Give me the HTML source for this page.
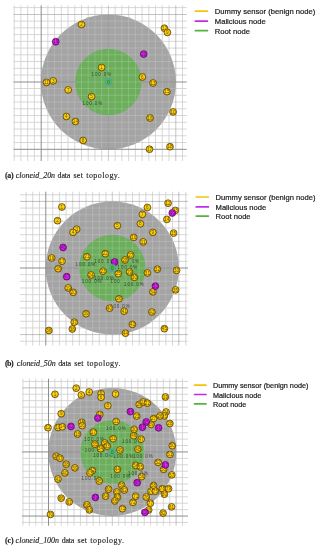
<!DOCTYPE html><html><head><meta charset="utf-8"><style>html,body{margin:0;padding:0;background:#fff}svg{display:block}</style></head><body><svg width="321" height="550" viewBox="0 0 321 550"><style>text{font-family:"Liberation Sans",sans-serif}.cap{font-family:"Liberation Serif",serif}</style><rect width="321" height="550" fill="#fff"/><defs><radialGradient id="gy" cx="0.5" cy="0.45" r="0.55"><stop offset="0" stop-color="#ffe21a"/><stop offset="0.6" stop-color="#f8cc08"/><stop offset="1" stop-color="#d49800"/></radialGradient><radialGradient id="gm" cx="0.5" cy="0.45" r="0.55"><stop offset="0" stop-color="#f432f4"/><stop offset="0.6" stop-color="#d81ee0"/><stop offset="1" stop-color="#9c10b0"/></radialGradient></defs><clipPath id="c1a"><circle cx="108.4" cy="82.0" r="67.5"/></clipPath><clipPath id="c1b"><circle cx="108.4" cy="82.0" r="33.3"/></clipPath><path d="M14.20 5.3V161M20.93 5.3V161M27.66 5.3V161M34.39 5.3V161M47.85 5.3V161M54.58 5.3V161M61.31 5.3V161M68.04 5.3V161M74.77 5.3V161M81.50 5.3V161M88.23 5.3V161M94.96 5.3V161M101.69 5.3V161M115.15 5.3V161M121.88 5.3V161M128.61 5.3V161M135.34 5.3V161M142.07 5.3V161M148.80 5.3V161M155.53 5.3V161M162.26 5.3V161M168.99 5.3V161M182.45 5.3V161M13.5 7.60H186.7M13.5 14.50H186.7M13.5 21.09H186.7M13.5 27.84H186.7M13.5 34.58H186.7M13.5 41.33H186.7M13.5 48.07H186.7M13.5 54.82H186.7M13.5 61.56H186.7M13.5 68.30H186.7M13.5 75.05H186.7M13.5 88.54H186.7M13.5 95.28H186.7M13.5 102.03H186.7M13.5 108.77H186.7M13.5 115.52H186.7M13.5 122.27H186.7M13.5 129.01H186.7M13.5 135.75H186.7M13.5 142.50H186.7M13.5 155.99H186.7" stroke="#d0d0d0" stroke-width="0.85" fill="none"/><path d="M41.2 5.3V161" stroke="#8e8e8e" stroke-opacity="1" stroke-width="1"/><path d="M108.4 5.3V161" stroke="#8e8e8e" stroke-opacity="0.45" stroke-width="1"/><path d="M175.8 5.3V161" stroke="#8e8e8e" stroke-opacity="0.5" stroke-width="1"/><path d="M13.5 14.5H186.7" stroke="#8e8e8e" stroke-opacity="0.3" stroke-width="1"/><path d="M13.5 82.0H186.7" stroke="#8e8e8e" stroke-opacity="1" stroke-width="1"/><path d="M13.5 149.3H186.7" stroke="#8e8e8e" stroke-opacity="1" stroke-width="1"/><circle cx="108.4" cy="82.0" r="67.5" fill="#a4a4a4"/><g clip-path="url(#c1a)"><path d="M14.20 5.3V161M20.93 5.3V161M27.66 5.3V161M34.39 5.3V161M47.85 5.3V161M54.58 5.3V161M61.31 5.3V161M68.04 5.3V161M74.77 5.3V161M81.50 5.3V161M88.23 5.3V161M94.96 5.3V161M101.69 5.3V161M115.15 5.3V161M121.88 5.3V161M128.61 5.3V161M135.34 5.3V161M142.07 5.3V161M148.80 5.3V161M155.53 5.3V161M162.26 5.3V161M168.99 5.3V161M182.45 5.3V161M13.5 7.60H186.7M13.5 14.50H186.7M13.5 21.09H186.7M13.5 27.84H186.7M13.5 34.58H186.7M13.5 41.33H186.7M13.5 48.07H186.7M13.5 54.82H186.7M13.5 61.56H186.7M13.5 68.30H186.7M13.5 75.05H186.7M13.5 88.54H186.7M13.5 95.28H186.7M13.5 102.03H186.7M13.5 108.77H186.7M13.5 115.52H186.7M13.5 122.27H186.7M13.5 129.01H186.7M13.5 135.75H186.7M13.5 142.50H186.7M13.5 155.99H186.7" stroke="#fff" stroke-opacity="0.19" stroke-width="0.85" fill="none"/><path d="M41.2 5.3V161" stroke="#404040" stroke-opacity="0.160" stroke-width="1"/><path d="M108.4 5.3V161" stroke="#404040" stroke-opacity="0.072" stroke-width="1"/><path d="M175.8 5.3V161" stroke="#404040" stroke-opacity="0.080" stroke-width="1"/><path d="M13.5 14.5H186.7" stroke="#404040" stroke-opacity="0.048" stroke-width="1"/><path d="M13.5 82.0H186.7" stroke="#404040" stroke-opacity="0.160" stroke-width="1"/><path d="M13.5 149.3H186.7" stroke="#404040" stroke-opacity="0.160" stroke-width="1"/></g><circle cx="108.4" cy="82.0" r="33.3" fill="#6cae5c"/><g clip-path="url(#c1b)"><path d="M14.20 5.3V161M20.93 5.3V161M27.66 5.3V161M34.39 5.3V161M41.20 5.3V161M47.85 5.3V161M54.58 5.3V161M61.31 5.3V161M68.04 5.3V161M74.77 5.3V161M81.50 5.3V161M88.23 5.3V161M94.96 5.3V161M101.69 5.3V161M108.40 5.3V161M115.15 5.3V161M121.88 5.3V161M128.61 5.3V161M135.34 5.3V161M142.07 5.3V161M148.80 5.3V161M155.53 5.3V161M162.26 5.3V161M168.99 5.3V161M175.80 5.3V161M182.45 5.3V161M13.5 7.60H186.7M13.5 14.50H186.7M13.5 21.09H186.7M13.5 27.84H186.7M13.5 34.58H186.7M13.5 41.33H186.7M13.5 48.07H186.7M13.5 54.82H186.7M13.5 61.56H186.7M13.5 68.30H186.7M13.5 75.05H186.7M13.5 82.00H186.7M13.5 88.54H186.7M13.5 95.28H186.7M13.5 102.03H186.7M13.5 108.77H186.7M13.5 115.52H186.7M13.5 122.27H186.7M13.5 129.01H186.7M13.5 135.75H186.7M13.5 142.50H186.7M13.5 149.30H186.7M13.5 155.99H186.7" stroke="#fff" stroke-opacity="0.2" stroke-width="0.85" fill="none"/></g><text x="91.5" y="76.1" font-size="4.5" letter-spacing="0.9" fill="#222" fill-opacity="0.75">100.0%</text><text x="82.5" y="104.9" font-size="4.5" letter-spacing="0.9" fill="#222" fill-opacity="0.75">100.0%</text><circle cx="81.5" cy="24.5" r="3.4" fill="url(#gy)" stroke="#4a3a0c" stroke-opacity="0.9" stroke-width="0.8"/><text x="81.5" y="26.1" font-size="4.6" text-anchor="middle" fill="#6e4a00">2</text><circle cx="46.5" cy="82.4" r="3.4" fill="url(#gy)" stroke="#4a3a0c" stroke-opacity="0.9" stroke-width="0.8"/><text x="46.5" y="84.0" font-size="4.6" text-anchor="middle" fill="#6e4a00">11</text><circle cx="53.2" cy="80.9" r="3.4" fill="url(#gy)" stroke="#4a3a0c" stroke-opacity="0.9" stroke-width="0.8"/><text x="53.2" y="82.5" font-size="4.6" text-anchor="middle" fill="#6e4a00">3</text><circle cx="68.2" cy="89.9" r="3.4" fill="url(#gy)" stroke="#4a3a0c" stroke-opacity="0.9" stroke-width="0.8"/><text x="68.2" y="91.5" font-size="4.6" text-anchor="middle" fill="#6e4a00">7</text><circle cx="91.6" cy="96.6" r="3.4" fill="url(#gy)" stroke="#4a3a0c" stroke-opacity="0.9" stroke-width="0.8"/><text x="91.6" y="98.19999999999999" font-size="4.6" text-anchor="middle" fill="#6e4a00">5</text><circle cx="101.6" cy="67.5" r="3.4" fill="url(#gy)" stroke="#4a3a0c" stroke-opacity="0.9" stroke-width="0.8"/><text x="101.6" y="69.1" font-size="4.6" text-anchor="middle" fill="#6e4a00">1</text><circle cx="66.4" cy="116.5" r="3.4" fill="url(#gy)" stroke="#4a3a0c" stroke-opacity="0.9" stroke-width="0.8"/><text x="66.4" y="118.1" font-size="4.6" text-anchor="middle" fill="#6e4a00">4</text><circle cx="75.4" cy="121.5" r="3.4" fill="url(#gy)" stroke="#4a3a0c" stroke-opacity="0.9" stroke-width="0.8"/><text x="75.4" y="123.1" font-size="4.6" text-anchor="middle" fill="#6e4a00">14</text><circle cx="83.1" cy="140.4" r="3.4" fill="url(#gy)" stroke="#4a3a0c" stroke-opacity="0.9" stroke-width="0.8"/><text x="83.1" y="142.0" font-size="4.6" text-anchor="middle" fill="#6e4a00">8</text><circle cx="164.4" cy="28.2" r="3.4" fill="url(#gy)" stroke="#4a3a0c" stroke-opacity="0.9" stroke-width="0.8"/><text x="164.4" y="29.8" font-size="4.6" text-anchor="middle" fill="#6e4a00">12</text><circle cx="167.4" cy="32.4" r="3.4" fill="url(#gy)" stroke="#4a3a0c" stroke-opacity="0.9" stroke-width="0.8"/><text x="167.4" y="34.0" font-size="4.6" text-anchor="middle" fill="#6e4a00">9</text><circle cx="142.4" cy="77" r="3.4" fill="url(#gy)" stroke="#4a3a0c" stroke-opacity="0.9" stroke-width="0.8"/><text x="142.4" y="78.6" font-size="4.6" text-anchor="middle" fill="#6e4a00">6</text><circle cx="153.1" cy="83" r="3.4" fill="url(#gy)" stroke="#4a3a0c" stroke-opacity="0.9" stroke-width="0.8"/><text x="153.1" y="84.6" font-size="4.6" text-anchor="middle" fill="#6e4a00">13</text><circle cx="166.9" cy="91.7" r="3.4" fill="url(#gy)" stroke="#4a3a0c" stroke-opacity="0.9" stroke-width="0.8"/><text x="166.9" y="93.3" font-size="4.6" text-anchor="middle" fill="#6e4a00">15</text><circle cx="173.1" cy="111.9" r="3.4" fill="url(#gy)" stroke="#4a3a0c" stroke-opacity="0.9" stroke-width="0.8"/><text x="173.1" y="113.5" font-size="4.6" text-anchor="middle" fill="#6e4a00">10</text><circle cx="150" cy="118" r="3.4" fill="url(#gy)" stroke="#4a3a0c" stroke-opacity="0.9" stroke-width="0.8"/><text x="150" y="119.6" font-size="4.6" text-anchor="middle" fill="#6e4a00">16</text><circle cx="149.5" cy="149.2" r="3.4" fill="url(#gy)" stroke="#4a3a0c" stroke-opacity="0.9" stroke-width="0.8"/><text x="149.5" y="150.79999999999998" font-size="4.6" text-anchor="middle" fill="#6e4a00">17</text><circle cx="170" cy="146.7" r="3.4" fill="url(#gy)" stroke="#4a3a0c" stroke-opacity="0.9" stroke-width="0.8"/><text x="170" y="148.29999999999998" font-size="4.6" text-anchor="middle" fill="#6e4a00">18</text><circle cx="55.75" cy="41.75" r="3.4" fill="url(#gm)" stroke="#4e0c64" stroke-opacity="0.9" stroke-width="0.8"/><text x="55.75" y="43.35" font-size="4.6" text-anchor="middle" fill="#6a087a">19</text><circle cx="143.7" cy="54.1" r="3.4" fill="url(#gm)" stroke="#4e0c64" stroke-opacity="0.9" stroke-width="0.8"/><text x="143.7" y="55.7" font-size="4.6" text-anchor="middle" fill="#6a087a">20</text><circle cx="108.5" cy="82.1" r="3.5" fill="#58b848" stroke="#4a98dc" stroke-width="0.9"/><text x="108.5" y="83.69999999999999" font-size="4.6" text-anchor="middle" fill="#1d6a1d">0</text><line x1="195.4" y1="11.1" x2="207.4" y2="11.1" stroke="#f5c30a" stroke-width="1.7" stroke-linecap="round"/><text x="214.8" y="14.4" font-size="7.64" fill="#1a1a1a" stroke="#1a1a1a" stroke-width="0.2" class="lg">Dummy sensor (benign node)</text><line x1="195.4" y1="21.2" x2="207.4" y2="21.2" stroke="#c62ae6" stroke-width="1.7" stroke-linecap="round"/><text x="214.8" y="24.2" font-size="7.64" fill="#1a1a1a" stroke="#1a1a1a" stroke-width="0.2" class="lg">Malicious node</text><line x1="195.4" y1="30.7" x2="207.4" y2="30.7" stroke="#58b040" stroke-width="1.7" stroke-linecap="round"/><text x="214.8" y="33.75" font-size="7.64" fill="#1a1a1a" stroke="#1a1a1a" stroke-width="0.2" class="lg">Root node</text><text y="178.1" font-size="8" fill="#1a1a1a" stroke="#1a1a1a" stroke-width="0.12" class="cap"><tspan x="5.0" textLength="8.6" lengthAdjust="spacing" font-weight="bold">(a)</tspan> <tspan x="15.8" textLength="39.3" lengthAdjust="spacing" font-style="italic">cloneid_20n</tspan> <tspan x="57.6" textLength="12.7" lengthAdjust="spacing">data</tspan> <tspan x="73.5" textLength="9.4" lengthAdjust="spacing">set</tspan> <tspan x="86.2" textLength="33.6" lengthAdjust="spacing">topology.</tspan></text><clipPath id="c2a"><circle cx="112.25" cy="268" r="66.6"/></clipPath><clipPath id="c2b"><circle cx="112.25" cy="268" r="33.3"/></clipPath><path d="M26.10 191.7V345.6M32.76 191.7V345.6M39.41 191.7V345.6M52.72 191.7V345.6M59.38 191.7V345.6M66.03 191.7V345.6M72.69 191.7V345.6M79.34 191.7V345.6M86.00 191.7V345.6M92.65 191.7V345.6M99.31 191.7V345.6M105.96 191.7V345.6M112.30 191.7V345.6M119.27 191.7V345.6M125.93 191.7V345.6M132.58 191.7V345.6M139.24 191.7V345.6M145.89 191.7V345.6M152.55 191.7V345.6M159.20 191.7V345.6M165.85 191.7V345.6M172.51 191.7V345.6M185.82 191.7V345.6M19.9 194.74H188M19.9 208.06H188M19.9 214.72H188M19.9 221.38H188M19.9 228.04H188M19.9 234.70H188M19.9 241.36H188M19.9 248.02H188M19.9 254.68H188M19.9 261.34H188M19.9 274.66H188M19.9 281.32H188M19.9 287.98H188M19.9 294.64H188M19.9 301.30H188M19.9 307.96H188M19.9 314.62H188M19.9 321.28H188M19.9 327.94H188M19.9 341.26H188" stroke="#d0d0d0" stroke-width="0.85" fill="none"/><path d="M45.8 191.7V345.6" stroke="#8e8e8e" stroke-opacity="1" stroke-width="1"/><path d="M112.3 191.7V345.6" stroke="#8e8e8e" stroke-opacity="0.15" stroke-width="1"/><path d="M178.8 191.7V345.6" stroke="#8e8e8e" stroke-opacity="0.55" stroke-width="1"/><path d="M19.9 201.4H188" stroke="#8e8e8e" stroke-opacity="0.55" stroke-width="1"/><path d="M19.9 268H188" stroke="#8e8e8e" stroke-opacity="1" stroke-width="1"/><path d="M19.9 334.6H188" stroke="#8e8e8e" stroke-opacity="0.55" stroke-width="1"/><circle cx="112.25" cy="268" r="66.6" fill="#a4a4a4"/><g clip-path="url(#c2a)"><path d="M26.10 191.7V345.6M32.76 191.7V345.6M39.41 191.7V345.6M52.72 191.7V345.6M59.38 191.7V345.6M66.03 191.7V345.6M72.69 191.7V345.6M79.34 191.7V345.6M86.00 191.7V345.6M92.65 191.7V345.6M99.31 191.7V345.6M105.96 191.7V345.6M112.30 191.7V345.6M119.27 191.7V345.6M125.93 191.7V345.6M132.58 191.7V345.6M139.24 191.7V345.6M145.89 191.7V345.6M152.55 191.7V345.6M159.20 191.7V345.6M165.85 191.7V345.6M172.51 191.7V345.6M185.82 191.7V345.6M19.9 194.74H188M19.9 208.06H188M19.9 214.72H188M19.9 221.38H188M19.9 228.04H188M19.9 234.70H188M19.9 241.36H188M19.9 248.02H188M19.9 254.68H188M19.9 261.34H188M19.9 274.66H188M19.9 281.32H188M19.9 287.98H188M19.9 294.64H188M19.9 301.30H188M19.9 307.96H188M19.9 314.62H188M19.9 321.28H188M19.9 327.94H188M19.9 341.26H188" stroke="#fff" stroke-opacity="0.19" stroke-width="0.85" fill="none"/><path d="M45.8 191.7V345.6" stroke="#404040" stroke-opacity="0.160" stroke-width="1"/><path d="M112.3 191.7V345.6" stroke="#404040" stroke-opacity="0.024" stroke-width="1"/><path d="M178.8 191.7V345.6" stroke="#404040" stroke-opacity="0.088" stroke-width="1"/><path d="M19.9 201.4H188" stroke="#404040" stroke-opacity="0.088" stroke-width="1"/><path d="M19.9 268H188" stroke="#404040" stroke-opacity="0.160" stroke-width="1"/><path d="M19.9 334.6H188" stroke="#404040" stroke-opacity="0.088" stroke-width="1"/></g><circle cx="112.25" cy="268" r="33.3" fill="#6cae5c"/><g clip-path="url(#c2b)"><path d="M26.10 191.7V345.6M32.76 191.7V345.6M39.41 191.7V345.6M45.80 191.7V345.6M52.72 191.7V345.6M59.38 191.7V345.6M66.03 191.7V345.6M72.69 191.7V345.6M79.34 191.7V345.6M86.00 191.7V345.6M92.65 191.7V345.6M99.31 191.7V345.6M105.96 191.7V345.6M112.30 191.7V345.6M119.27 191.7V345.6M125.93 191.7V345.6M132.58 191.7V345.6M139.24 191.7V345.6M145.89 191.7V345.6M152.55 191.7V345.6M159.20 191.7V345.6M165.85 191.7V345.6M172.51 191.7V345.6M178.80 191.7V345.6M185.82 191.7V345.6M19.9 194.74H188M19.9 201.40H188M19.9 208.06H188M19.9 214.72H188M19.9 221.38H188M19.9 228.04H188M19.9 234.70H188M19.9 241.36H188M19.9 248.02H188M19.9 254.68H188M19.9 261.34H188M19.9 268.00H188M19.9 274.66H188M19.9 281.32H188M19.9 287.98H188M19.9 294.64H188M19.9 301.30H188M19.9 307.96H188M19.9 314.62H188M19.9 321.28H188M19.9 327.94H188M19.9 334.60H188M19.9 341.26H188" stroke="#fff" stroke-opacity="0.2" stroke-width="0.85" fill="none"/></g><text x="75.6" y="266.3" font-size="4.5" letter-spacing="0.9" fill="#222" fill-opacity="0.75">100.0%</text><text x="94.3" y="263.3" font-size="4.5" letter-spacing="0.9" fill="#222" fill-opacity="0.75">100.0%</text><text x="117.6" y="268.5" font-size="4.5" letter-spacing="0.9" fill="#222" fill-opacity="0.75">100.0%</text><text x="81.8" y="283.3" font-size="4.5" letter-spacing="0.9" fill="#222" fill-opacity="0.75">100.0%</text><text x="94" y="279.8" font-size="4.5" letter-spacing="0.9" fill="#222" fill-opacity="0.75">100.0%</text><text x="124" y="285.8" font-size="4.5" letter-spacing="0.9" fill="#222" fill-opacity="0.75">100.0%</text><text x="110" y="307.5" font-size="4.5" letter-spacing="0.9" fill="#222" fill-opacity="0.75">100.0%</text><text x="131.7" y="263.3" font-size="4.5" letter-spacing="0.9" fill="#222" fill-opacity="0.75">0%</text><text x="110.5" y="283" font-size="4.5" letter-spacing="0.9" fill="#222" fill-opacity="0.75">100</text><circle cx="61.9" cy="207" r="3.4" fill="url(#gy)" stroke="#4a3a0c" stroke-opacity="0.9" stroke-width="0.8"/><text x="61.9" y="208.6" font-size="4.6" text-anchor="middle" fill="#6e4a00">1</text><circle cx="57.5" cy="220.7" r="3.4" fill="url(#gy)" stroke="#4a3a0c" stroke-opacity="0.9" stroke-width="0.8"/><text x="57.5" y="222.29999999999998" font-size="4.6" text-anchor="middle" fill="#6e4a00">2</text><circle cx="76.7" cy="229.2" r="3.4" fill="url(#gy)" stroke="#4a3a0c" stroke-opacity="0.9" stroke-width="0.8"/><text x="76.7" y="230.79999999999998" font-size="4.6" text-anchor="middle" fill="#6e4a00">3</text><circle cx="73" cy="232.4" r="3.4" fill="url(#gy)" stroke="#4a3a0c" stroke-opacity="0.9" stroke-width="0.8"/><text x="73" y="234.0" font-size="4.6" text-anchor="middle" fill="#6e4a00">4</text><circle cx="117.4" cy="225.7" r="3.4" fill="url(#gy)" stroke="#4a3a0c" stroke-opacity="0.9" stroke-width="0.8"/><text x="117.4" y="227.29999999999998" font-size="4.6" text-anchor="middle" fill="#6e4a00">5</text><circle cx="147.4" cy="207.5" r="3.4" fill="url(#gy)" stroke="#4a3a0c" stroke-opacity="0.9" stroke-width="0.8"/><text x="147.4" y="209.1" font-size="4.6" text-anchor="middle" fill="#6e4a00">6</text><circle cx="142.4" cy="214.4" r="3.4" fill="url(#gy)" stroke="#4a3a0c" stroke-opacity="0.9" stroke-width="0.8"/><text x="142.4" y="216.0" font-size="4.6" text-anchor="middle" fill="#6e4a00">7</text><circle cx="140.4" cy="223.7" r="3.4" fill="url(#gy)" stroke="#4a3a0c" stroke-opacity="0.9" stroke-width="0.8"/><text x="140.4" y="225.29999999999998" font-size="4.6" text-anchor="middle" fill="#6e4a00">8</text><circle cx="152.9" cy="232.4" r="3.4" fill="url(#gy)" stroke="#4a3a0c" stroke-opacity="0.9" stroke-width="0.8"/><text x="152.9" y="234.0" font-size="4.6" text-anchor="middle" fill="#6e4a00">9</text><circle cx="133.7" cy="237.4" r="3.4" fill="url(#gy)" stroke="#4a3a0c" stroke-opacity="0.9" stroke-width="0.8"/><text x="133.7" y="239.0" font-size="4.6" text-anchor="middle" fill="#6e4a00">10</text><circle cx="143.2" cy="241.9" r="3.4" fill="url(#gy)" stroke="#4a3a0c" stroke-opacity="0.9" stroke-width="0.8"/><text x="143.2" y="243.5" font-size="4.6" text-anchor="middle" fill="#6e4a00">11</text><circle cx="168.1" cy="203.2" r="3.4" fill="url(#gy)" stroke="#4a3a0c" stroke-opacity="0.9" stroke-width="0.8"/><text x="168.1" y="204.79999999999998" font-size="4.6" text-anchor="middle" fill="#6e4a00">12</text><circle cx="175.3" cy="210.4" r="3.4" fill="url(#gy)" stroke="#4a3a0c" stroke-opacity="0.9" stroke-width="0.8"/><text x="175.3" y="212.0" font-size="4.6" text-anchor="middle" fill="#6e4a00">13</text><circle cx="166.9" cy="219.4" r="3.4" fill="url(#gy)" stroke="#4a3a0c" stroke-opacity="0.9" stroke-width="0.8"/><text x="166.9" y="221.0" font-size="4.6" text-anchor="middle" fill="#6e4a00">14</text><circle cx="173.6" cy="233.1" r="3.4" fill="url(#gy)" stroke="#4a3a0c" stroke-opacity="0.9" stroke-width="0.8"/><text x="173.6" y="234.7" font-size="4.6" text-anchor="middle" fill="#6e4a00">15</text><circle cx="51.7" cy="258" r="3.4" fill="url(#gy)" stroke="#4a3a0c" stroke-opacity="0.9" stroke-width="0.8"/><text x="51.7" y="259.6" font-size="4.6" text-anchor="middle" fill="#6e4a00">16</text><circle cx="62" cy="261.2" r="3.4" fill="url(#gy)" stroke="#4a3a0c" stroke-opacity="0.9" stroke-width="0.8"/><text x="62" y="262.8" font-size="4.6" text-anchor="middle" fill="#6e4a00">17</text><circle cx="58.2" cy="268.7" r="3.4" fill="url(#gy)" stroke="#4a3a0c" stroke-opacity="0.9" stroke-width="0.8"/><text x="58.2" y="270.3" font-size="4.6" text-anchor="middle" fill="#6e4a00">18</text><circle cx="68.2" cy="287.9" r="3.4" fill="url(#gy)" stroke="#4a3a0c" stroke-opacity="0.9" stroke-width="0.8"/><text x="68.2" y="289.5" font-size="4.6" text-anchor="middle" fill="#6e4a00">19</text><circle cx="73.2" cy="292.4" r="3.4" fill="url(#gy)" stroke="#4a3a0c" stroke-opacity="0.9" stroke-width="0.8"/><text x="73.2" y="294.0" font-size="4.6" text-anchor="middle" fill="#6e4a00">20</text><circle cx="86.9" cy="256.7" r="3.4" fill="url(#gy)" stroke="#4a3a0c" stroke-opacity="0.9" stroke-width="0.8"/><text x="86.9" y="258.3" font-size="4.6" text-anchor="middle" fill="#6e4a00">21</text><circle cx="105.3" cy="253.7" r="3.4" fill="url(#gy)" stroke="#4a3a0c" stroke-opacity="0.9" stroke-width="0.8"/><text x="105.3" y="255.29999999999998" font-size="4.6" text-anchor="middle" fill="#6e4a00">22</text><circle cx="103.1" cy="271.2" r="3.4" fill="url(#gy)" stroke="#4a3a0c" stroke-opacity="0.9" stroke-width="0.8"/><text x="103.1" y="272.8" font-size="4.6" text-anchor="middle" fill="#6e4a00">23</text><circle cx="91.1" cy="275" r="3.4" fill="url(#gy)" stroke="#4a3a0c" stroke-opacity="0.9" stroke-width="0.8"/><text x="91.1" y="276.6" font-size="4.6" text-anchor="middle" fill="#6e4a00">24</text><circle cx="118.3" cy="273.7" r="3.4" fill="url(#gy)" stroke="#4a3a0c" stroke-opacity="0.9" stroke-width="0.8"/><text x="118.3" y="275.3" font-size="4.6" text-anchor="middle" fill="#6e4a00">25</text><circle cx="119" cy="298.8" r="3.4" fill="url(#gy)" stroke="#4a3a0c" stroke-opacity="0.9" stroke-width="0.8"/><text x="119" y="300.40000000000003" font-size="4.6" text-anchor="middle" fill="#6e4a00">26</text><circle cx="130.7" cy="255" r="3.4" fill="url(#gy)" stroke="#4a3a0c" stroke-opacity="0.9" stroke-width="0.8"/><text x="130.7" y="256.6" font-size="4.6" text-anchor="middle" fill="#6e4a00">27</text><circle cx="125" cy="260" r="3.4" fill="url(#gy)" stroke="#4a3a0c" stroke-opacity="0.9" stroke-width="0.8"/><text x="125" y="261.6" font-size="4.6" text-anchor="middle" fill="#6e4a00">28</text><circle cx="129.5" cy="272" r="3.4" fill="url(#gy)" stroke="#4a3a0c" stroke-opacity="0.9" stroke-width="0.8"/><text x="129.5" y="273.6" font-size="4.6" text-anchor="middle" fill="#6e4a00">29</text><circle cx="134.4" cy="277.4" r="3.4" fill="url(#gy)" stroke="#4a3a0c" stroke-opacity="0.9" stroke-width="0.8"/><text x="134.4" y="279.0" font-size="4.6" text-anchor="middle" fill="#6e4a00">30</text><circle cx="147.4" cy="273" r="3.4" fill="url(#gy)" stroke="#4a3a0c" stroke-opacity="0.9" stroke-width="0.8"/><text x="147.4" y="274.6" font-size="4.6" text-anchor="middle" fill="#6e4a00">31</text><circle cx="157.4" cy="269.2" r="3.4" fill="url(#gy)" stroke="#4a3a0c" stroke-opacity="0.9" stroke-width="0.8"/><text x="157.4" y="270.8" font-size="4.6" text-anchor="middle" fill="#6e4a00">32</text><circle cx="176.6" cy="270.4" r="3.4" fill="url(#gy)" stroke="#4a3a0c" stroke-opacity="0.9" stroke-width="0.8"/><text x="176.6" y="272.0" font-size="4.6" text-anchor="middle" fill="#6e4a00">33</text><circle cx="152.9" cy="291.9" r="3.4" fill="url(#gy)" stroke="#4a3a0c" stroke-opacity="0.9" stroke-width="0.8"/><text x="152.9" y="293.5" font-size="4.6" text-anchor="middle" fill="#6e4a00">34</text><circle cx="175.6" cy="289.9" r="3.4" fill="url(#gy)" stroke="#4a3a0c" stroke-opacity="0.9" stroke-width="0.8"/><text x="175.6" y="291.5" font-size="4.6" text-anchor="middle" fill="#6e4a00">35</text><circle cx="48.9" cy="330.5" r="3.4" fill="url(#gy)" stroke="#4a3a0c" stroke-opacity="0.9" stroke-width="0.8"/><text x="48.9" y="332.1" font-size="4.6" text-anchor="middle" fill="#6e4a00">36</text><circle cx="74.2" cy="322.2" r="3.4" fill="url(#gy)" stroke="#4a3a0c" stroke-opacity="0.9" stroke-width="0.8"/><text x="74.2" y="323.8" font-size="4.6" text-anchor="middle" fill="#6e4a00">37</text><circle cx="72.3" cy="329" r="3.4" fill="url(#gy)" stroke="#4a3a0c" stroke-opacity="0.9" stroke-width="0.8"/><text x="72.3" y="330.6" font-size="4.6" text-anchor="middle" fill="#6e4a00">38</text><circle cx="86.1" cy="313.7" r="3.4" fill="url(#gy)" stroke="#4a3a0c" stroke-opacity="0.9" stroke-width="0.8"/><text x="86.1" y="315.3" font-size="4.6" text-anchor="middle" fill="#6e4a00">39</text><circle cx="109.6" cy="308.2" r="3.4" fill="url(#gy)" stroke="#4a3a0c" stroke-opacity="0.9" stroke-width="0.8"/><text x="109.6" y="309.8" font-size="4.6" text-anchor="middle" fill="#6e4a00">40</text><circle cx="124.2" cy="311.2" r="3.4" fill="url(#gy)" stroke="#4a3a0c" stroke-opacity="0.9" stroke-width="0.8"/><text x="124.2" y="312.8" font-size="4.6" text-anchor="middle" fill="#6e4a00">41</text><circle cx="151.9" cy="312" r="3.4" fill="url(#gy)" stroke="#4a3a0c" stroke-opacity="0.9" stroke-width="0.8"/><text x="151.9" y="313.6" font-size="4.6" text-anchor="middle" fill="#6e4a00">42</text><circle cx="132.4" cy="324.4" r="3.4" fill="url(#gy)" stroke="#4a3a0c" stroke-opacity="0.9" stroke-width="0.8"/><text x="132.4" y="326.0" font-size="4.6" text-anchor="middle" fill="#6e4a00">43</text><circle cx="125.5" cy="333.2" r="3.4" fill="url(#gy)" stroke="#4a3a0c" stroke-opacity="0.9" stroke-width="0.8"/><text x="125.5" y="334.8" font-size="4.6" text-anchor="middle" fill="#6e4a00">44</text><circle cx="164.4" cy="328.7" r="3.4" fill="url(#gy)" stroke="#4a3a0c" stroke-opacity="0.9" stroke-width="0.8"/><text x="164.4" y="330.3" font-size="4.6" text-anchor="middle" fill="#6e4a00">45</text><circle cx="63.1" cy="247.5" r="3.4" fill="url(#gm)" stroke="#4e0c64" stroke-opacity="0.9" stroke-width="0.8"/><text x="63.1" y="249.1" font-size="4.6" text-anchor="middle" fill="#6a087a">46</text><circle cx="66.7" cy="276.7" r="3.4" fill="url(#gm)" stroke="#4e0c64" stroke-opacity="0.9" stroke-width="0.8"/><text x="66.7" y="278.3" font-size="4.6" text-anchor="middle" fill="#6a087a">47</text><circle cx="114.7" cy="262" r="3.4" fill="url(#gm)" stroke="#4e0c64" stroke-opacity="0.9" stroke-width="0.8"/><text x="114.7" y="263.6" font-size="4.6" text-anchor="middle" fill="#6a087a">48</text><circle cx="172.3" cy="213" r="3.4" fill="url(#gm)" stroke="#4e0c64" stroke-opacity="0.9" stroke-width="0.8"/><text x="172.3" y="214.6" font-size="4.6" text-anchor="middle" fill="#6a087a">49</text><circle cx="155.4" cy="286.1" r="3.4" fill="url(#gm)" stroke="#4e0c64" stroke-opacity="0.9" stroke-width="0.8"/><text x="155.4" y="287.70000000000005" font-size="4.6" text-anchor="middle" fill="#6a087a">50</text><circle cx="112.4" cy="268.1" r="3.5" fill="#58b848" stroke="#4a98dc" stroke-width="0.9"/><text x="112.4" y="269.70000000000005" font-size="4.6" text-anchor="middle" fill="#1d6a1d">0</text><line x1="196.2" y1="197" x2="208.4" y2="197" stroke="#f5c30a" stroke-width="1.7" stroke-linecap="round"/><text x="215.6" y="200.1" font-size="7.58" fill="#1a1a1a" stroke="#1a1a1a" stroke-width="0.2" class="lg">Dummy sensor (benign node)</text><line x1="196.2" y1="206.9" x2="208.4" y2="206.9" stroke="#c62ae6" stroke-width="1.7" stroke-linecap="round"/><text x="215.6" y="210" font-size="7.58" fill="#1a1a1a" stroke="#1a1a1a" stroke-width="0.2" class="lg">Malicious node</text><line x1="196.2" y1="216.1" x2="208.4" y2="216.1" stroke="#58b040" stroke-width="1.7" stroke-linecap="round"/><text x="215.6" y="219.2" font-size="7.58" fill="#1a1a1a" stroke="#1a1a1a" stroke-width="0.2" class="lg">Root node</text><text y="366.3" font-size="8" fill="#1a1a1a" stroke="#1a1a1a" stroke-width="0.12" class="cap"><tspan x="5.0" textLength="8.6" lengthAdjust="spacing" font-weight="bold">(b)</tspan> <tspan x="16.8" textLength="38.9" lengthAdjust="spacing" font-style="italic">cloneid_50n</tspan> <tspan x="58.3" textLength="12.7" lengthAdjust="spacing">data</tspan> <tspan x="74.2" textLength="9.4" lengthAdjust="spacing">set</tspan> <tspan x="86.9" textLength="33.6" lengthAdjust="spacing">topology.</tspan></text><clipPath id="c3a"><circle cx="112.3" cy="451.95" r="64"/></clipPath><clipPath id="c3b"><circle cx="112.3" cy="451.95" r="32"/></clipPath><path d="M22.98 378.7V525.7M29.36 378.7V525.7M35.74 378.7V525.7M42.12 378.7V525.7M54.88 378.7V525.7M61.26 378.7V525.7M67.64 378.7V525.7M74.02 378.7V525.7M80.40 378.7V525.7M86.78 378.7V525.7M93.16 378.7V525.7M99.54 378.7V525.7M105.92 378.7V525.7M112.30 378.7V525.7M118.68 378.7V525.7M125.06 378.7V525.7M131.44 378.7V525.7M137.82 378.7V525.7M144.20 378.7V525.7M150.58 378.7V525.7M156.96 378.7V525.7M163.34 378.7V525.7M169.72 378.7V525.7M182.48 378.7V525.7M22.1 381.44H188M22.1 387.85H188M22.1 394.26H188M22.1 400.67H188M22.1 407.08H188M22.1 413.49H188M22.1 419.90H188M22.1 426.31H188M22.1 432.72H188M22.1 439.13H188M22.1 445.54H188M22.1 458.36H188M22.1 464.77H188M22.1 471.18H188M22.1 477.59H188M22.1 484.00H188M22.1 490.41H188M22.1 496.82H188M22.1 503.23H188M22.1 509.64H188M22.1 522.46H188" stroke="#d0d0d0" stroke-width="0.85" fill="none"/><path d="M48.5 378.7V525.7" stroke="#8e8e8e" stroke-opacity="1" stroke-width="1"/><path d="M112.3 378.7V525.7" stroke="#8e8e8e" stroke-opacity="0.15" stroke-width="1"/><path d="M176.1 378.7V525.7" stroke="#8e8e8e" stroke-opacity="0.55" stroke-width="1"/><path d="M22.1 387.85H188" stroke="#8e8e8e" stroke-opacity="0.3" stroke-width="1"/><path d="M22.1 451.95H188" stroke="#8e8e8e" stroke-opacity="1" stroke-width="1"/><path d="M22.1 516.05H188" stroke="#8e8e8e" stroke-opacity="1" stroke-width="1"/><circle cx="112.3" cy="451.95" r="64" fill="#a4a4a4"/><g clip-path="url(#c3a)"><path d="M22.98 378.7V525.7M29.36 378.7V525.7M35.74 378.7V525.7M42.12 378.7V525.7M54.88 378.7V525.7M61.26 378.7V525.7M67.64 378.7V525.7M74.02 378.7V525.7M80.40 378.7V525.7M86.78 378.7V525.7M93.16 378.7V525.7M99.54 378.7V525.7M105.92 378.7V525.7M112.30 378.7V525.7M118.68 378.7V525.7M125.06 378.7V525.7M131.44 378.7V525.7M137.82 378.7V525.7M144.20 378.7V525.7M150.58 378.7V525.7M156.96 378.7V525.7M163.34 378.7V525.7M169.72 378.7V525.7M182.48 378.7V525.7M22.1 381.44H188M22.1 387.85H188M22.1 394.26H188M22.1 400.67H188M22.1 407.08H188M22.1 413.49H188M22.1 419.90H188M22.1 426.31H188M22.1 432.72H188M22.1 439.13H188M22.1 445.54H188M22.1 458.36H188M22.1 464.77H188M22.1 471.18H188M22.1 477.59H188M22.1 484.00H188M22.1 490.41H188M22.1 496.82H188M22.1 503.23H188M22.1 509.64H188M22.1 522.46H188" stroke="#fff" stroke-opacity="0.19" stroke-width="0.85" fill="none"/><path d="M48.5 378.7V525.7" stroke="#404040" stroke-opacity="0.160" stroke-width="1"/><path d="M112.3 378.7V525.7" stroke="#404040" stroke-opacity="0.024" stroke-width="1"/><path d="M176.1 378.7V525.7" stroke="#404040" stroke-opacity="0.088" stroke-width="1"/><path d="M22.1 387.85H188" stroke="#404040" stroke-opacity="0.048" stroke-width="1"/><path d="M22.1 451.95H188" stroke="#404040" stroke-opacity="0.160" stroke-width="1"/><path d="M22.1 516.05H188" stroke="#404040" stroke-opacity="0.160" stroke-width="1"/></g><circle cx="112.3" cy="451.95" r="32" fill="#6cae5c"/><g clip-path="url(#c3b)"><path d="M22.98 378.7V525.7M29.36 378.7V525.7M35.74 378.7V525.7M42.12 378.7V525.7M48.50 378.7V525.7M54.88 378.7V525.7M61.26 378.7V525.7M67.64 378.7V525.7M74.02 378.7V525.7M80.40 378.7V525.7M86.78 378.7V525.7M93.16 378.7V525.7M99.54 378.7V525.7M105.92 378.7V525.7M112.30 378.7V525.7M118.68 378.7V525.7M125.06 378.7V525.7M131.44 378.7V525.7M137.82 378.7V525.7M144.20 378.7V525.7M150.58 378.7V525.7M156.96 378.7V525.7M163.34 378.7V525.7M169.72 378.7V525.7M176.10 378.7V525.7M182.48 378.7V525.7M22.1 381.44H188M22.1 387.85H188M22.1 394.26H188M22.1 400.67H188M22.1 407.08H188M22.1 413.49H188M22.1 419.90H188M22.1 426.31H188M22.1 432.72H188M22.1 439.13H188M22.1 445.54H188M22.1 451.95H188M22.1 458.36H188M22.1 464.77H188M22.1 471.18H188M22.1 477.59H188M22.1 484.00H188M22.1 490.41H188M22.1 496.82H188M22.1 503.23H188M22.1 509.64H188M22.1 516.05H188M22.1 522.46H188" stroke="#fff" stroke-opacity="0.2" stroke-width="0.85" fill="none"/></g><text x="84.2" y="440.7" font-size="4.5" letter-spacing="0.9" fill="#222" fill-opacity="0.75">100.0%</text><text x="106" y="430.2" font-size="4.5" letter-spacing="0.9" fill="#222" fill-opacity="0.75">100.0%</text><text x="84.8" y="452.2" font-size="4.5" letter-spacing="0.9" fill="#222" fill-opacity="0.75">100.0%</text><text x="93" y="457.1" font-size="4.5" letter-spacing="0.9" fill="#222" fill-opacity="0.75">100.0%</text><text x="122" y="443.2" font-size="4.5" letter-spacing="0.9" fill="#222" fill-opacity="0.75">100.0%</text><text x="113.5" y="457.9" font-size="4.5" letter-spacing="0.9" fill="#222" fill-opacity="0.75">100.0%</text><text x="133" y="457.9" font-size="4.5" letter-spacing="0.9" fill="#222" fill-opacity="0.75">100.0%</text><text x="110.5" y="477.7" font-size="4.5" letter-spacing="0.9" fill="#222" fill-opacity="0.75">100.0%</text><text x="128" y="475.2" font-size="4.5" letter-spacing="0.9" fill="#222" fill-opacity="0.75">100.0%</text><text x="81.5" y="479.5" font-size="4.5" letter-spacing="0.9" fill="#222" fill-opacity="0.75">100.0%</text><circle cx="55" cy="394.3" r="3.4" fill="url(#gy)" stroke="#4a3a0c" stroke-opacity="0.9" stroke-width="0.8"/><text x="55" y="395.90000000000003" font-size="4.6" text-anchor="middle" fill="#6e4a00">1</text><circle cx="76.2" cy="388.2" r="3.4" fill="url(#gy)" stroke="#4a3a0c" stroke-opacity="0.9" stroke-width="0.8"/><text x="76.2" y="389.8" font-size="4.6" text-anchor="middle" fill="#6e4a00">2</text><circle cx="81.3" cy="395" r="3.4" fill="url(#gy)" stroke="#4a3a0c" stroke-opacity="0.9" stroke-width="0.8"/><text x="81.3" y="396.6" font-size="4.6" text-anchor="middle" fill="#6e4a00">3</text><circle cx="89.2" cy="392" r="3.4" fill="url(#gy)" stroke="#4a3a0c" stroke-opacity="0.9" stroke-width="0.8"/><text x="89.2" y="393.6" font-size="4.6" text-anchor="middle" fill="#6e4a00">4</text><circle cx="101.1" cy="393.7" r="3.4" fill="url(#gy)" stroke="#4a3a0c" stroke-opacity="0.9" stroke-width="0.8"/><text x="101.1" y="395.3" font-size="4.6" text-anchor="middle" fill="#6e4a00">5</text><circle cx="101.1" cy="397.4" r="3.4" fill="url(#gy)" stroke="#4a3a0c" stroke-opacity="0.9" stroke-width="0.8"/><text x="101.1" y="399.0" font-size="4.6" text-anchor="middle" fill="#6e4a00">6</text><circle cx="115.5" cy="394" r="3.4" fill="url(#gy)" stroke="#4a3a0c" stroke-opacity="0.9" stroke-width="0.8"/><text x="115.5" y="395.6" font-size="4.6" text-anchor="middle" fill="#6e4a00">7</text><circle cx="107.8" cy="405.7" r="3.4" fill="url(#gy)" stroke="#4a3a0c" stroke-opacity="0.9" stroke-width="0.8"/><text x="107.8" y="407.3" font-size="4.6" text-anchor="middle" fill="#6e4a00">8</text><circle cx="61.2" cy="413.7" r="3.4" fill="url(#gy)" stroke="#4a3a0c" stroke-opacity="0.9" stroke-width="0.8"/><text x="61.2" y="415.3" font-size="4.6" text-anchor="middle" fill="#6e4a00">9</text><circle cx="99.8" cy="414.4" r="3.4" fill="url(#gy)" stroke="#4a3a0c" stroke-opacity="0.9" stroke-width="0.8"/><text x="99.8" y="416.0" font-size="4.6" text-anchor="middle" fill="#6e4a00">10</text><circle cx="116.1" cy="421.5" r="3.4" fill="url(#gy)" stroke="#4a3a0c" stroke-opacity="0.9" stroke-width="0.8"/><text x="116.1" y="423.1" font-size="4.6" text-anchor="middle" fill="#6e4a00">11</text><circle cx="48" cy="427.7" r="3.4" fill="url(#gy)" stroke="#4a3a0c" stroke-opacity="0.9" stroke-width="0.8"/><text x="48" y="429.3" font-size="4.6" text-anchor="middle" fill="#6e4a00">12</text><circle cx="58" cy="427.5" r="3.4" fill="url(#gy)" stroke="#4a3a0c" stroke-opacity="0.9" stroke-width="0.8"/><text x="58" y="429.1" font-size="4.6" text-anchor="middle" fill="#6e4a00">13</text><circle cx="62.4" cy="426.8" r="3.4" fill="url(#gy)" stroke="#4a3a0c" stroke-opacity="0.9" stroke-width="0.8"/><text x="62.4" y="428.40000000000003" font-size="4.6" text-anchor="middle" fill="#6e4a00">14</text><circle cx="81.7" cy="422.3" r="3.4" fill="url(#gy)" stroke="#4a3a0c" stroke-opacity="0.9" stroke-width="0.8"/><text x="81.7" y="423.90000000000003" font-size="4.6" text-anchor="middle" fill="#6e4a00">15</text><circle cx="82.2" cy="425.6" r="3.4" fill="url(#gy)" stroke="#4a3a0c" stroke-opacity="0.9" stroke-width="0.8"/><text x="82.2" y="427.20000000000005" font-size="4.6" text-anchor="middle" fill="#6e4a00">16</text><circle cx="93.4" cy="432.2" r="3.4" fill="url(#gy)" stroke="#4a3a0c" stroke-opacity="0.9" stroke-width="0.8"/><text x="93.4" y="433.8" font-size="4.6" text-anchor="middle" fill="#6e4a00">17</text><circle cx="77.6" cy="434" r="3.4" fill="url(#gy)" stroke="#4a3a0c" stroke-opacity="0.9" stroke-width="0.8"/><text x="77.6" y="435.6" font-size="4.6" text-anchor="middle" fill="#6e4a00">18</text><circle cx="165.4" cy="397" r="3.4" fill="url(#gy)" stroke="#4a3a0c" stroke-opacity="0.9" stroke-width="0.8"/><text x="165.4" y="398.6" font-size="4.6" text-anchor="middle" fill="#6e4a00">19</text><circle cx="139.2" cy="404.4" r="3.4" fill="url(#gy)" stroke="#4a3a0c" stroke-opacity="0.9" stroke-width="0.8"/><text x="139.2" y="406.0" font-size="4.6" text-anchor="middle" fill="#6e4a00">20</text><circle cx="143.2" cy="402" r="3.4" fill="url(#gy)" stroke="#4a3a0c" stroke-opacity="0.9" stroke-width="0.8"/><text x="143.2" y="403.6" font-size="4.6" text-anchor="middle" fill="#6e4a00">21</text><circle cx="147.4" cy="403.2" r="3.4" fill="url(#gy)" stroke="#4a3a0c" stroke-opacity="0.9" stroke-width="0.8"/><text x="147.4" y="404.8" font-size="4.6" text-anchor="middle" fill="#6e4a00">22</text><circle cx="136.7" cy="416.1" r="3.4" fill="url(#gy)" stroke="#4a3a0c" stroke-opacity="0.9" stroke-width="0.8"/><text x="136.7" y="417.70000000000005" font-size="4.6" text-anchor="middle" fill="#6e4a00">23</text><circle cx="166.1" cy="412" r="3.4" fill="url(#gy)" stroke="#4a3a0c" stroke-opacity="0.9" stroke-width="0.8"/><text x="166.1" y="413.6" font-size="4.6" text-anchor="middle" fill="#6e4a00">24</text><circle cx="164.4" cy="416" r="3.4" fill="url(#gy)" stroke="#4a3a0c" stroke-opacity="0.9" stroke-width="0.8"/><text x="164.4" y="417.6" font-size="4.6" text-anchor="middle" fill="#6e4a00">25</text><circle cx="160" cy="416" r="3.4" fill="url(#gy)" stroke="#4a3a0c" stroke-opacity="0.9" stroke-width="0.8"/><text x="160" y="417.6" font-size="4.6" text-anchor="middle" fill="#6e4a00">26</text><circle cx="153.6" cy="418.6" r="3.4" fill="url(#gy)" stroke="#4a3a0c" stroke-opacity="0.9" stroke-width="0.8"/><text x="153.6" y="420.20000000000005" font-size="4.6" text-anchor="middle" fill="#6e4a00">27</text><circle cx="169.9" cy="423.5" r="3.4" fill="url(#gy)" stroke="#4a3a0c" stroke-opacity="0.9" stroke-width="0.8"/><text x="169.9" y="425.1" font-size="4.6" text-anchor="middle" fill="#6e4a00">28</text><circle cx="151.1" cy="424.5" r="3.4" fill="url(#gy)" stroke="#4a3a0c" stroke-opacity="0.9" stroke-width="0.8"/><text x="151.1" y="426.1" font-size="4.6" text-anchor="middle" fill="#6e4a00">29</text><circle cx="134.2" cy="429.3" r="3.4" fill="url(#gy)" stroke="#4a3a0c" stroke-opacity="0.9" stroke-width="0.8"/><text x="134.2" y="430.90000000000003" font-size="4.6" text-anchor="middle" fill="#6e4a00">30</text><circle cx="113.1" cy="438.7" r="3.4" fill="url(#gy)" stroke="#4a3a0c" stroke-opacity="0.9" stroke-width="0.8"/><text x="113.1" y="440.3" font-size="4.6" text-anchor="middle" fill="#6e4a00">31</text><circle cx="104.8" cy="443" r="3.4" fill="url(#gy)" stroke="#4a3a0c" stroke-opacity="0.9" stroke-width="0.8"/><text x="104.8" y="444.6" font-size="4.6" text-anchor="middle" fill="#6e4a00">32</text><circle cx="107.3" cy="446.2" r="3.4" fill="url(#gy)" stroke="#4a3a0c" stroke-opacity="0.9" stroke-width="0.8"/><text x="107.3" y="447.8" font-size="4.6" text-anchor="middle" fill="#6e4a00">33</text><circle cx="100.6" cy="448.7" r="3.4" fill="url(#gy)" stroke="#4a3a0c" stroke-opacity="0.9" stroke-width="0.8"/><text x="100.6" y="450.3" font-size="4.6" text-anchor="middle" fill="#6e4a00">34</text><circle cx="94.9" cy="444.2" r="3.4" fill="url(#gy)" stroke="#4a3a0c" stroke-opacity="0.9" stroke-width="0.8"/><text x="94.9" y="445.8" font-size="4.6" text-anchor="middle" fill="#6e4a00">35</text><circle cx="56.2" cy="456.2" r="3.4" fill="url(#gy)" stroke="#4a3a0c" stroke-opacity="0.9" stroke-width="0.8"/><text x="56.2" y="457.8" font-size="4.6" text-anchor="middle" fill="#6e4a00">36</text><circle cx="60" cy="458.2" r="3.4" fill="url(#gy)" stroke="#4a3a0c" stroke-opacity="0.9" stroke-width="0.8"/><text x="60" y="459.8" font-size="4.6" text-anchor="middle" fill="#6e4a00">37</text><circle cx="66.2" cy="464.2" r="3.4" fill="url(#gy)" stroke="#4a3a0c" stroke-opacity="0.9" stroke-width="0.8"/><text x="66.2" y="465.8" font-size="4.6" text-anchor="middle" fill="#6e4a00">38</text><circle cx="74.9" cy="467.9" r="3.4" fill="url(#gy)" stroke="#4a3a0c" stroke-opacity="0.9" stroke-width="0.8"/><text x="74.9" y="469.5" font-size="4.6" text-anchor="middle" fill="#6e4a00">39</text><circle cx="64.9" cy="472.9" r="3.4" fill="url(#gy)" stroke="#4a3a0c" stroke-opacity="0.9" stroke-width="0.8"/><text x="64.9" y="474.5" font-size="4.6" text-anchor="middle" fill="#6e4a00">40</text><circle cx="58" cy="479" r="3.4" fill="url(#gy)" stroke="#4a3a0c" stroke-opacity="0.9" stroke-width="0.8"/><text x="58" y="480.6" font-size="4.6" text-anchor="middle" fill="#6e4a00">41</text><circle cx="92.4" cy="470.6" r="3.4" fill="url(#gy)" stroke="#4a3a0c" stroke-opacity="0.9" stroke-width="0.8"/><text x="92.4" y="472.20000000000005" font-size="4.6" text-anchor="middle" fill="#6e4a00">42</text><circle cx="89.9" cy="473" r="3.4" fill="url(#gy)" stroke="#4a3a0c" stroke-opacity="0.9" stroke-width="0.8"/><text x="89.9" y="474.6" font-size="4.6" text-anchor="middle" fill="#6e4a00">43</text><circle cx="117.4" cy="469.4" r="3.4" fill="url(#gy)" stroke="#4a3a0c" stroke-opacity="0.9" stroke-width="0.8"/><text x="117.4" y="471.0" font-size="4.6" text-anchor="middle" fill="#6e4a00">44</text><circle cx="99.3" cy="481.1" r="3.4" fill="url(#gy)" stroke="#4a3a0c" stroke-opacity="0.9" stroke-width="0.8"/><text x="99.3" y="482.70000000000005" font-size="4.6" text-anchor="middle" fill="#6e4a00">45</text><circle cx="133.7" cy="435.7" r="3.4" fill="url(#gy)" stroke="#4a3a0c" stroke-opacity="0.9" stroke-width="0.8"/><text x="133.7" y="437.3" font-size="4.6" text-anchor="middle" fill="#6e4a00">46</text><circle cx="141.2" cy="439.2" r="3.4" fill="url(#gy)" stroke="#4a3a0c" stroke-opacity="0.9" stroke-width="0.8"/><text x="141.2" y="440.8" font-size="4.6" text-anchor="middle" fill="#6e4a00">47</text><circle cx="137.9" cy="449.2" r="3.4" fill="url(#gy)" stroke="#4a3a0c" stroke-opacity="0.9" stroke-width="0.8"/><text x="137.9" y="450.8" font-size="4.6" text-anchor="middle" fill="#6e4a00">48</text><circle cx="120" cy="450" r="3.4" fill="url(#gy)" stroke="#4a3a0c" stroke-opacity="0.9" stroke-width="0.8"/><text x="120" y="451.6" font-size="4.6" text-anchor="middle" fill="#6e4a00">49</text><circle cx="172.3" cy="445.7" r="3.4" fill="url(#gy)" stroke="#4a3a0c" stroke-opacity="0.9" stroke-width="0.8"/><text x="172.3" y="447.3" font-size="4.6" text-anchor="middle" fill="#6e4a00">50</text><circle cx="169.9" cy="454.4" r="3.4" fill="url(#gy)" stroke="#4a3a0c" stroke-opacity="0.9" stroke-width="0.8"/><text x="169.9" y="456.0" font-size="4.6" text-anchor="middle" fill="#6e4a00">51</text><circle cx="158.1" cy="462.4" r="3.4" fill="url(#gy)" stroke="#4a3a0c" stroke-opacity="0.9" stroke-width="0.8"/><text x="158.1" y="464.0" font-size="4.6" text-anchor="middle" fill="#6e4a00">52</text><circle cx="163.6" cy="469.4" r="3.4" fill="url(#gy)" stroke="#4a3a0c" stroke-opacity="0.9" stroke-width="0.8"/><text x="163.6" y="471.0" font-size="4.6" text-anchor="middle" fill="#6e4a00">53</text><circle cx="135.7" cy="465.4" r="3.4" fill="url(#gy)" stroke="#4a3a0c" stroke-opacity="0.9" stroke-width="0.8"/><text x="135.7" y="467.0" font-size="4.6" text-anchor="middle" fill="#6e4a00">54</text><circle cx="140.4" cy="466.9" r="3.4" fill="url(#gy)" stroke="#4a3a0c" stroke-opacity="0.9" stroke-width="0.8"/><text x="140.4" y="468.5" font-size="4.6" text-anchor="middle" fill="#6e4a00">55</text><circle cx="141.7" cy="476.6" r="3.4" fill="url(#gy)" stroke="#4a3a0c" stroke-opacity="0.9" stroke-width="0.8"/><text x="141.7" y="478.20000000000005" font-size="4.6" text-anchor="middle" fill="#6e4a00">56</text><circle cx="171.8" cy="474.9" r="3.4" fill="url(#gy)" stroke="#4a3a0c" stroke-opacity="0.9" stroke-width="0.8"/><text x="171.8" y="476.5" font-size="4.6" text-anchor="middle" fill="#6e4a00">57</text><circle cx="153.6" cy="485.5" r="3.4" fill="url(#gy)" stroke="#4a3a0c" stroke-opacity="0.9" stroke-width="0.8"/><text x="153.6" y="487.1" font-size="4.6" text-anchor="middle" fill="#6e4a00">58</text><circle cx="121.6" cy="485.2" r="3.4" fill="url(#gy)" stroke="#4a3a0c" stroke-opacity="0.9" stroke-width="0.8"/><text x="121.6" y="486.8" font-size="4.6" text-anchor="middle" fill="#6e4a00">59</text><circle cx="108.6" cy="489.2" r="3.4" fill="url(#gy)" stroke="#4a3a0c" stroke-opacity="0.9" stroke-width="0.8"/><text x="108.6" y="490.8" font-size="4.6" text-anchor="middle" fill="#6e4a00">60</text><circle cx="116.8" cy="492" r="3.4" fill="url(#gy)" stroke="#4a3a0c" stroke-opacity="0.9" stroke-width="0.8"/><text x="116.8" y="493.6" font-size="4.6" text-anchor="middle" fill="#6e4a00">61</text><circle cx="124.3" cy="490" r="3.4" fill="url(#gy)" stroke="#4a3a0c" stroke-opacity="0.9" stroke-width="0.8"/><text x="124.3" y="491.6" font-size="4.6" text-anchor="middle" fill="#6e4a00">62</text><circle cx="117.5" cy="497.2" r="3.4" fill="url(#gy)" stroke="#4a3a0c" stroke-opacity="0.9" stroke-width="0.8"/><text x="117.5" y="498.8" font-size="4.6" text-anchor="middle" fill="#6e4a00">63</text><circle cx="105.6" cy="496.2" r="3.4" fill="url(#gy)" stroke="#4a3a0c" stroke-opacity="0.9" stroke-width="0.8"/><text x="105.6" y="497.8" font-size="4.6" text-anchor="middle" fill="#6e4a00">64</text><circle cx="114.8" cy="501" r="3.4" fill="url(#gy)" stroke="#4a3a0c" stroke-opacity="0.9" stroke-width="0.8"/><text x="114.8" y="502.6" font-size="4.6" text-anchor="middle" fill="#6e4a00">65</text><circle cx="61.2" cy="498.2" r="3.4" fill="url(#gy)" stroke="#4a3a0c" stroke-opacity="0.9" stroke-width="0.8"/><text x="61.2" y="499.8" font-size="4.6" text-anchor="middle" fill="#6e4a00">66</text><circle cx="69.2" cy="501.9" r="3.4" fill="url(#gy)" stroke="#4a3a0c" stroke-opacity="0.9" stroke-width="0.8"/><text x="69.2" y="503.5" font-size="4.6" text-anchor="middle" fill="#6e4a00">67</text><circle cx="86.9" cy="504.9" r="3.4" fill="url(#gy)" stroke="#4a3a0c" stroke-opacity="0.9" stroke-width="0.8"/><text x="86.9" y="506.5" font-size="4.6" text-anchor="middle" fill="#6e4a00">68</text><circle cx="89.4" cy="509.9" r="3.4" fill="url(#gy)" stroke="#4a3a0c" stroke-opacity="0.9" stroke-width="0.8"/><text x="89.4" y="511.5" font-size="4.6" text-anchor="middle" fill="#6e4a00">69</text><circle cx="50.5" cy="514.4" r="3.4" fill="url(#gy)" stroke="#4a3a0c" stroke-opacity="0.9" stroke-width="0.8"/><text x="50.5" y="516.0" font-size="4.6" text-anchor="middle" fill="#6e4a00">70</text><circle cx="135.7" cy="496.2" r="3.4" fill="url(#gy)" stroke="#4a3a0c" stroke-opacity="0.9" stroke-width="0.8"/><text x="135.7" y="497.8" font-size="4.6" text-anchor="middle" fill="#6e4a00">71</text><circle cx="133" cy="502.4" r="3.4" fill="url(#gy)" stroke="#4a3a0c" stroke-opacity="0.9" stroke-width="0.8"/><text x="133" y="504.0" font-size="4.6" text-anchor="middle" fill="#6e4a00">72</text><circle cx="122.5" cy="508.7" r="3.4" fill="url(#gy)" stroke="#4a3a0c" stroke-opacity="0.9" stroke-width="0.8"/><text x="122.5" y="510.3" font-size="4.6" text-anchor="middle" fill="#6e4a00">73</text><circle cx="151.1" cy="491.2" r="3.4" fill="url(#gy)" stroke="#4a3a0c" stroke-opacity="0.9" stroke-width="0.8"/><text x="151.1" y="492.8" font-size="4.6" text-anchor="middle" fill="#6e4a00">74</text><circle cx="155.4" cy="491.2" r="3.4" fill="url(#gy)" stroke="#4a3a0c" stroke-opacity="0.9" stroke-width="0.8"/><text x="155.4" y="492.8" font-size="4.6" text-anchor="middle" fill="#6e4a00">75</text><circle cx="146.2" cy="497" r="3.4" fill="url(#gy)" stroke="#4a3a0c" stroke-opacity="0.9" stroke-width="0.8"/><text x="146.2" y="498.6" font-size="4.6" text-anchor="middle" fill="#6e4a00">76</text><circle cx="150.4" cy="503.2" r="3.4" fill="url(#gy)" stroke="#4a3a0c" stroke-opacity="0.9" stroke-width="0.8"/><text x="150.4" y="504.8" font-size="4.6" text-anchor="middle" fill="#6e4a00">77</text><circle cx="162.4" cy="488.7" r="3.4" fill="url(#gy)" stroke="#4a3a0c" stroke-opacity="0.9" stroke-width="0.8"/><text x="162.4" y="490.3" font-size="4.6" text-anchor="middle" fill="#6e4a00">78</text><circle cx="168.6" cy="488.7" r="3.4" fill="url(#gy)" stroke="#4a3a0c" stroke-opacity="0.9" stroke-width="0.8"/><text x="168.6" y="490.3" font-size="4.6" text-anchor="middle" fill="#6e4a00">79</text><circle cx="164.4" cy="494.2" r="3.4" fill="url(#gy)" stroke="#4a3a0c" stroke-opacity="0.9" stroke-width="0.8"/><text x="164.4" y="495.8" font-size="4.6" text-anchor="middle" fill="#6e4a00">80</text><circle cx="171.6" cy="506.9" r="3.4" fill="url(#gy)" stroke="#4a3a0c" stroke-opacity="0.9" stroke-width="0.8"/><text x="171.6" y="508.5" font-size="4.6" text-anchor="middle" fill="#6e4a00">81</text><circle cx="163.1" cy="513.1" r="3.4" fill="url(#gy)" stroke="#4a3a0c" stroke-opacity="0.9" stroke-width="0.8"/><text x="163.1" y="514.7" font-size="4.6" text-anchor="middle" fill="#6e4a00">82</text><circle cx="148.7" cy="510" r="3.4" fill="url(#gy)" stroke="#4a3a0c" stroke-opacity="0.9" stroke-width="0.8"/><text x="148.7" y="511.6" font-size="4.6" text-anchor="middle" fill="#6e4a00">83</text><circle cx="158.6" cy="427.8" r="3.4" fill="url(#gm)" stroke="#4e0c64" stroke-opacity="0.9" stroke-width="0.8"/><text x="158.6" y="429.40000000000003" font-size="4.6" text-anchor="middle" fill="#6a087a">91</text><circle cx="71" cy="426.5" r="3.4" fill="url(#gm)" stroke="#4e0c64" stroke-opacity="0.9" stroke-width="0.8"/><text x="71" y="428.1" font-size="4.6" text-anchor="middle" fill="#6a087a">92</text><circle cx="97.9" cy="418.1" r="3.4" fill="url(#gm)" stroke="#4e0c64" stroke-opacity="0.9" stroke-width="0.8"/><text x="97.9" y="419.70000000000005" font-size="4.6" text-anchor="middle" fill="#6a087a">93</text><circle cx="130.4" cy="411.6" r="3.4" fill="url(#gm)" stroke="#4e0c64" stroke-opacity="0.9" stroke-width="0.8"/><text x="130.4" y="413.20000000000005" font-size="4.6" text-anchor="middle" fill="#6a087a">94</text><circle cx="146.2" cy="422" r="3.4" fill="url(#gm)" stroke="#4e0c64" stroke-opacity="0.9" stroke-width="0.8"/><text x="146.2" y="423.6" font-size="4.6" text-anchor="middle" fill="#6a087a">95</text><circle cx="142.4" cy="427.3" r="3.4" fill="url(#gm)" stroke="#4e0c64" stroke-opacity="0.9" stroke-width="0.8"/><text x="142.4" y="428.90000000000003" font-size="4.6" text-anchor="middle" fill="#6a087a">96</text><circle cx="165.4" cy="464.9" r="3.4" fill="url(#gm)" stroke="#4e0c64" stroke-opacity="0.9" stroke-width="0.8"/><text x="165.4" y="466.5" font-size="4.6" text-anchor="middle" fill="#6a087a">97</text><circle cx="137.2" cy="482.7" r="3.4" fill="url(#gm)" stroke="#4e0c64" stroke-opacity="0.9" stroke-width="0.8"/><text x="137.2" y="484.3" font-size="4.6" text-anchor="middle" fill="#6a087a">98</text><circle cx="95.4" cy="497.4" r="3.4" fill="url(#gm)" stroke="#4e0c64" stroke-opacity="0.9" stroke-width="0.8"/><text x="95.4" y="499.0" font-size="4.6" text-anchor="middle" fill="#6a087a">99</text><circle cx="144.9" cy="512.4" r="3.4" fill="url(#gm)" stroke="#4e0c64" stroke-opacity="0.9" stroke-width="0.8"/><text x="144.9" y="514.0" font-size="4.6" text-anchor="middle" fill="#6a087a">100</text><circle cx="112.2" cy="451.9" r="3.5" fill="#58b848" stroke="#4a98dc" stroke-width="0.9"/><text x="112.2" y="453.5" font-size="4.6" text-anchor="middle" fill="#1d6a1d">0</text><line x1="194.5" y1="385.2" x2="206" y2="385.2" stroke="#f5c30a" stroke-width="1.7" stroke-linecap="round"/><text x="212.9" y="388.3" font-size="7.25" fill="#1a1a1a" stroke="#1a1a1a" stroke-width="0.2" class="lg">Dummy sensor (benign node)</text><line x1="194.5" y1="394.5" x2="206" y2="394.5" stroke="#c62ae6" stroke-width="1.7" stroke-linecap="round"/><text x="212.9" y="397.7" font-size="7.25" fill="#1a1a1a" stroke="#1a1a1a" stroke-width="0.2" class="lg">Malicious node</text><line x1="194.5" y1="403.9" x2="206" y2="403.9" stroke="#58b040" stroke-width="1.7" stroke-linecap="round"/><text x="212.9" y="406.7" font-size="7.25" fill="#1a1a1a" stroke="#1a1a1a" stroke-width="0.2" class="lg">Root node</text><text y="543.2" font-size="8" fill="#1a1a1a" stroke="#1a1a1a" stroke-width="0.12" class="cap"><tspan x="5.0" textLength="8.6" lengthAdjust="spacing" font-weight="bold">(c)</tspan> <tspan x="15.6" textLength="43.5" lengthAdjust="spacing" font-style="italic">cloneid_100n</tspan> <tspan x="61.7" textLength="12.7" lengthAdjust="spacing">data</tspan> <tspan x="77.60000000000001" textLength="9.4" lengthAdjust="spacing">set</tspan> <tspan x="90.30000000000001" textLength="33.6" lengthAdjust="spacing">topology.</tspan></text></svg></body></html>
